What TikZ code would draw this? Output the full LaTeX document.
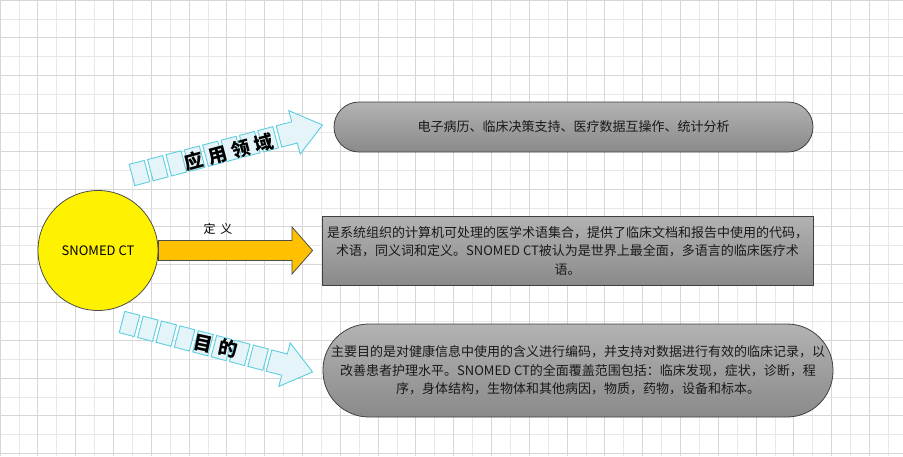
\documentclass[tikz,border=0pt]{standalone}
\usepackage{fontspec}
\setmainfont{Noto Sans CJK SC}
\definecolor{amber}{RGB}{255,192,0}
\definecolor{stripefill}{RGB}{228,244,249}
\definecolor{stripeline}{RGB}{92,206,224}
\tikzset{
    gridminor/.style={draw=black!9, line width=0.8},
    gridmajor/.style={draw=black!16, line width=0.8},
    graybox/.style={draw=black!75, line width=0.8, top color=black!30, bottom color=black!46,
        align=center, font=\fontsize{13}{18.5}\selectfont, text=black!90, inner sep=0},
    stripe/.style={draw=stripeline, fill=stripefill, line width=0.9},
    arrowlabel/.style={font=\bfseries\fontsize{19}{19}\selectfont}
}
\begin{document}
\begin{tikzpicture}[x=1pt, y=-1pt]
    \useasboundingbox (0,0) rectangle (903,456);
    % background grid
    \foreach \k in {1,3,...,47}{%
        \draw[gridminor] (\k*18.9,0) -- (\k*18.9,456);
    }
    \foreach \k in {1,3,...,23}{%
        \draw[gridminor] (0,\k*18.9) -- (903,\k*18.9);
    }
    \foreach \k in {0,2,...,46}{%
        \draw[gridmajor] (\k*18.9,0) -- (\k*18.9,456);
    }
    \foreach \k in {0,2,...,24}{%
        \draw[gridmajor] (0,\k*18.9) -- (903,\k*18.9);
    }
    % center term
    \node[circle, draw=black!70, line width=0.8, fill=yellow, minimum size=120,
        font=\fontsize{13}{13}\selectfont] (snomed) at (98,250.5) {SNOMED CT};
    % boxes on the right
    \node[graybox, rounded corners=25, minimum width=479, minimum height=50] (apply) at (573.5,127)
        {电子病历、临床决策支持、医疗数据互操作、统计分析};
    \node[graybox, minimum width=491, minimum height=69] (define) at (567.5,250.5)
        {是系统组织的计算机可处理的医学术语集合，提供了临床文档和报告中使用的代码，\\
         术语，同义词和定义。SNOMED CT被认为是世界上最全面，多语言的临床医疗术\\
         语。};
    \node[graybox, rounded corners=46, minimum width=510, minimum height=93] (purpose) at (578,370.5)
        {主要目的是对健康信息中使用的含义进行编码，并支持对数据进行有效的临床记录，以\\
         改善患者护理水平。SNOMED CT的全面覆盖范围包括：临床发现，症状，诊断，程\\
         序，身体结构，生物体和其他病因，物质，药物，设备和标本。};
    % definition arrow
    \coordinate (tipD) at ([xshift=-9]define.west);
    \coordinate (headD) at (292,250.5);
    \draw[draw=black!70, line width=0.8, fill=amber]
        ([yshift=-10]snomed.east) -- ([yshift=-10]headD) -- ([yshift=-23.5]headD)
        -- (tipD) -- ([yshift=23.5]headD) -- ([yshift=10]headD)
        -- ([yshift=10]snomed.east) -- cycle;
    \node[font=\fontsize{12}{12}\selectfont] (defLabel) at (218,229) {定\hspace{5pt}义};
    % striped arrows, up to the use box and down to the purpose box
    \foreach \px/\py/\a in {132/175/14.7, 122/322/-14.7}{%
        \begin{scope}[shift={(\px,\py)}, rotate=\a]
            \foreach \i in {0,...,7}{%
                \draw[stripe] (\i*19,-11) rectangle ++(15.5,22);
            }
            \draw[stripe] (152,-11) -- (168,-11) -- (168,-22.5) -- (197,0)
                -- (168,22.5) -- (168,11) -- (152,11) -- cycle;
        \end{scope}
    }
    \node[arrowlabel, rotate=15] (useLabel) at (229,152) {应\hspace{5pt}用\hspace{5pt}领\hspace{5pt}域};
    \node[arrowlabel, rotate=-12] (aimLabel) at (216,346) {目\hspace{6pt}的};
\end{tikzpicture}
\end{document}
